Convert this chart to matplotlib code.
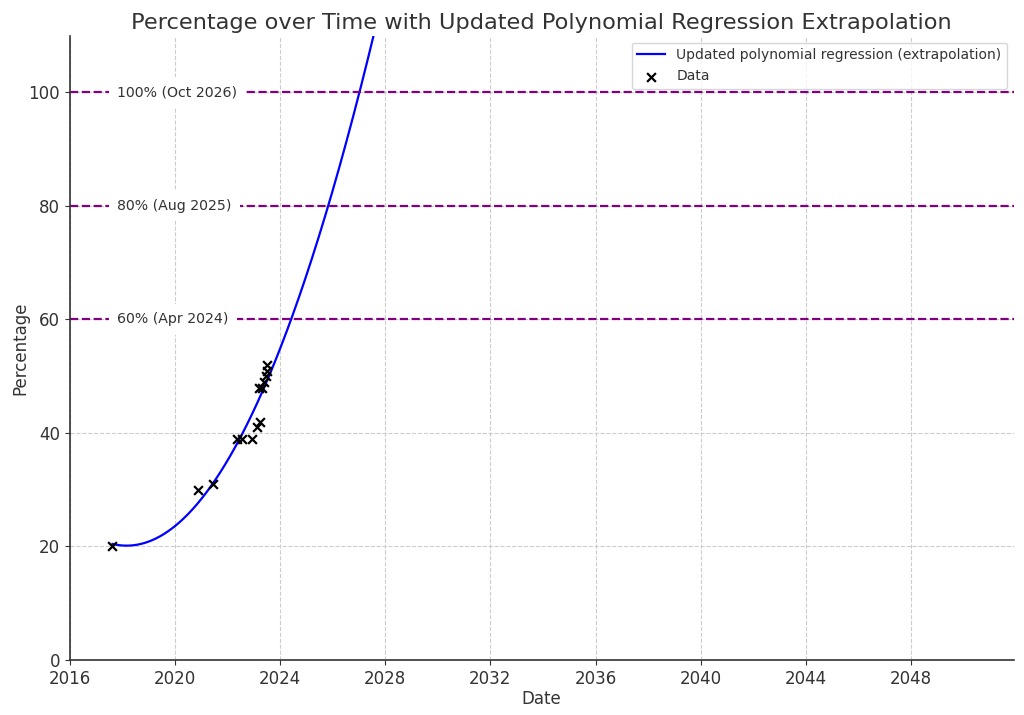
import numpy as np
import matplotlib
matplotlib.use("Agg")
import matplotlib.pyplot as plt

# data points (decimal years, percentage)
years = [2017.63, 2020.87, 2021.44, 2022.35, 2022.54, 2022.92, 2023.11, 2023.22,
         2023.20, 2023.30, 2023.38, 2023.45, 2023.50, 2023.52]
pct = [20, 30, 31, 39, 39, 39, 41, 42, 48, 48, 49, 50, 51, 52]

thresholds = [60, 80, 100]
threshold_labels = ["60% (Apr 2024)", "80% (Aug 2025)", "100% (Oct 2026)"]

# quadratic fit, extrapolated
coef = np.polyfit(years, pct, 2)
xs = np.linspace(min(years), 2027.6, 400)
ys = np.polyval(coef, xs)

fig = plt.figure(figsize=(10.24, 7.15), dpi=100)
ax = fig.add_axes([0.068, 0.077, 0.922, 0.873])

text_col = "#333333"
ax.plot(xs, ys, color="blue", lw=1.6, label="Updated polynomial regression (extrapolation)")
ax.scatter(years, pct, marker="x", color="black", s=40, lw=1.6, label="Data", zorder=3)

for t, lab in zip(thresholds, threshold_labels):
    ax.axhline(t, color="purple", ls="--", lw=1.6, zorder=2)
    ax.text(min(years) + 0.17, t, lab, va="center", ha="left", fontsize=10.2, color=text_col,
            bbox=dict(facecolor="white", edgecolor="none", pad=6), zorder=4)

ax.set_xlim(2016, 2051.9)
ax.set_ylim(0, 110)
ax.set_xticks(np.arange(2016, 2050, 4))
ax.set_xticklabels([str(y) for y in range(2016, 2050, 4)])
ax.set_yticks([0, 20, 40, 60, 80, 100])
ax.grid(True, ls="--", color="#cccccc", lw=0.8)
ax.set_axisbelow(True)
for s in ["top", "right"]:
    ax.spines[s].set_visible(False)
for s in ["left", "bottom"]:
    ax.spines[s].set_color("#333333")
    ax.spines[s].set_linewidth(1.2)
ax.tick_params(labelsize=12, colors=text_col)

ax.set_title("Percentage over Time with Updated Polynomial Regression Extrapolation",
             fontsize=16.2, color=text_col, pad=5)
ax.set_xlabel("Date", fontsize=12, color=text_col, labelpad=2)
ax.set_ylabel("Percentage", fontsize=12, color=text_col, labelpad=-1)

leg = ax.legend(loc="upper right", fontsize=10, frameon=True)
leg.get_frame().set_edgecolor("#cccccc")
for t in leg.get_texts():
    t.set_color(text_col)

fig.savefig("out.png", dpi=100)
